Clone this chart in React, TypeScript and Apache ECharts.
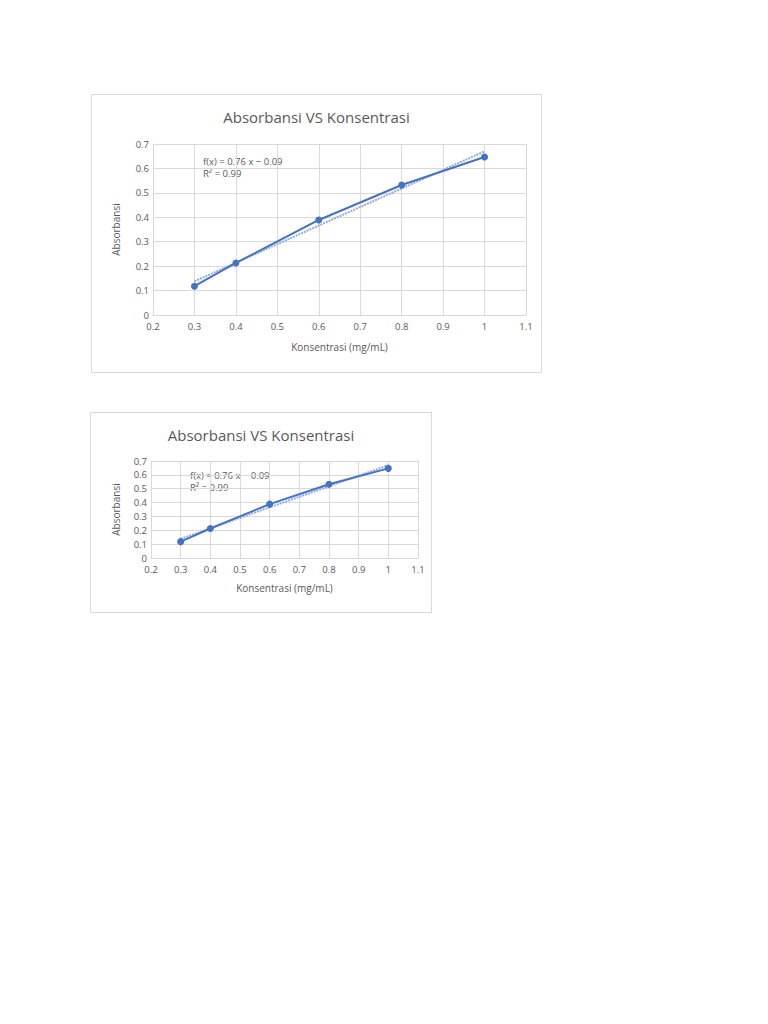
import React, { useEffect, useRef } from 'react';
import * as echarts from 'echarts';

// data
const concentrations = [0.3, 0.4, 0.6, 0.8, 1.0];
const absorbances = [0.118, 0.213, 0.389, 0.532, 0.647];
const trendX = [0.3, 1.0];
const trendY = [0.138, 0.67];
const xTicks = { min: 0.2, max: 1.1, interval: 0.1 };
const yTicks = { min: 0, max: 0.7, interval: 0.1 };
const titleText = 'Absorbansi VS Konsentrasi';
const equationText = 'f(x) = 0.76 x − 0.09';
const r2Text = 'R² = 0.99';

const FONT = "'Open Sans', 'Noto Sans', sans-serif";
const TEXT = '#595959';
const GRID = '#d9d9d9';
const BLUE = '#4472C4';

interface ChartBoxProps {
  left: number;
  top: number;
  width: number;
  height: number;
  grid: { left: number; top: number; right: number; bottom: number };
  yNameGap: number;
  xNameGap: number;
  noteX: number;
  noteY: number;
}

const ChartBox: React.FC<ChartBoxProps> = ({ left, top, width, height, grid, yNameGap, xNameGap, noteX, noteY }) => {
  const chartRef = useRef<HTMLDivElement>(null);

  useEffect(() => {
    if (!chartRef.current) return;
    const chart = echarts.init(chartRef.current, undefined, { renderer: 'svg' });

    const option: echarts.EChartsOption = {
      animation: false,
      textStyle: { fontFamily: FONT },
      title: {
        text: titleText,
        left: 'center',
        top: 14,
        padding: 0,
        textStyle: { fontSize: 15, fontWeight: 'normal', color: TEXT, fontFamily: FONT }
      },
      grid: { ...grid, containLabel: false },
      xAxis: {
        type: 'value',
        ...xTicks,
        name: 'Konsentrasi (mg/mL)',
        nameLocation: 'middle',
        nameGap: xNameGap,
        nameTextStyle: { fontSize: 10, color: TEXT, fontFamily: FONT },
        axisLine: { lineStyle: { color: GRID } },
        axisTick: { show: false },
        axisLabel: { fontSize: 9.5, color: TEXT, margin: 6, fontFamily: FONT },
        splitLine: { lineStyle: { color: GRID } }
      },
      yAxis: {
        type: 'value',
        ...yTicks,
        name: 'Absorbansi',
        nameLocation: 'middle',
        nameGap: yNameGap,
        nameTextStyle: { fontSize: 10, color: TEXT, fontFamily: FONT },
        axisLine: { show: true, lineStyle: { color: GRID } },
        axisTick: { show: false },
        axisLabel: { fontSize: 9.5, color: TEXT, margin: 4, fontFamily: FONT },
        splitLine: { lineStyle: { color: GRID } }
      },
      series: [
        {
          type: 'line',
          name: 'Trend',
          data: trendX.map((x, i) => [x, trendY[i]]),
          symbol: 'none',
          lineStyle: { color: '#8faadc', width: 2, type: [2, 1] },
          z: 1
        },
        {
          type: 'line',
          name: 'Absorbansi',
          data: concentrations.map((x, i) => [x, absorbances[i]]),
          symbol: 'circle',
          symbolSize: 7,
          itemStyle: { color: BLUE },
          lineStyle: { color: BLUE, width: 2 },
          z: 2
        }
      ],
      graphic: [
        {
          type: 'text',
          left: noteX,
          top: noteY,
          style: { text: equationText + '\n' + r2Text, fontSize: 9.5, lineHeight: 12, fill: TEXT, fontFamily: FONT }
        }
      ]
    };

    chart.setOption(option);
    return () => {
      chart.dispose();
    };
  }, [grid, yNameGap, xNameGap, noteX, noteY]);

  return (
    <div
      style={{
        position: 'absolute',
        left,
        top,
        width,
        height,
        border: `1px solid ${GRID}`,
        boxSizing: 'border-box',
        background: '#fff'
      }}
    >
      <div ref={chartRef} style={{ width: '100%', height: '100%' }} />
    </div>
  );
};

const bigGrid = { left: 61, top: 49, right: 15, bottom: 57 };
const smallGrid = { left: 60, top: 48, right: 13, bottom: 54 };

export default function App() {
  return (
    <div>
      <ChartBox left={91} top={94} width={451} height={279} grid={bigGrid} yNameGap={32} xNameGap={27} noteX={111} noteY={60} />
      <ChartBox left={90} top={412} width={342} height={201} grid={smallGrid} yNameGap={30} xNameGap={25} noteX={99} noteY={56} />
    </div>
  );
}
